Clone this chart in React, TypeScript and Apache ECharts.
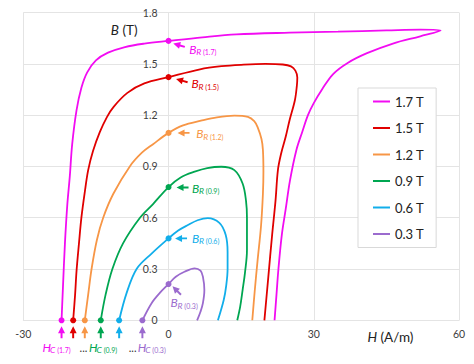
import React, { useEffect, useRef } from "react";
import * as echarts from "echarts";

// ---- data ----
const loopNames = ["1.7 T", "1.5 T", "1.2 T", "0.9 T", "0.6 T", "0.3 T"];
const loopTags = ["1.7", "1.5", "1.2", "0.9", "0.6", "0.3"];

const H_17 = [-22.1, -21.8, -21.4, -20.9, -20.4, -19.9, -19.0, -18.0, -16.8, -15.0, -12.5, -9.0, -5.0, 0, 7, 14, 25, 35, 45, 52, 56.2, 52, 46.5, 41, 37, 34, 31.7, 30, 28.8, 27.6, 26.4, 25.1, 24.2, 23.4, 22.7, 22.3, 21.9];
const B_17 = [0, 0.2, 0.45, 0.68, 0.84, 1.03, 1.229, 1.36, 1.45, 1.52, 1.565, 1.598, 1.618, 1.634, 1.655, 1.672, 1.682, 1.688, 1.695, 1.7, 1.695, 1.661, 1.62, 1.562, 1.505, 1.44, 1.35, 1.27, 1.2, 1.1, 0.995, 0.82, 0.65, 0.5, 0.3, 0.15, 0];

const H_15 = [-19.7, -19.3, -19.0, -18.5, -18.0, -17.3, -16.6, -15.6, -14.2, -12.7, -11.3, -8.5, -5.0, 0, 6.5, 11, 15, 20, 23.6, 25.3, 26.2, 26.6, 26.5, 26.1, 25.0, 24.2, 23.3, 22.6, 22.1, 21.4, 20.6, 19.8];
const B_15 = [0, 0.15, 0.29, 0.45, 0.6, 0.75, 0.878, 0.99, 1.1, 1.19, 1.25, 1.33, 1.385, 1.422, 1.468, 1.486, 1.494, 1.499, 1.496, 1.485, 1.46, 1.42, 1.37, 1.287, 1.17, 1.073, 0.98, 0.88, 0.7, 0.5, 0.25, 0];

const H_12 = [-17.3, -16.6, -15.9, -14.8, -13.5, -11.4, -8.0, -5.5, -3.2, 0, 3, 6.7, 10, 13.6, 16.4, 17.7, 18.4, 19.2, 19.5, 19.6, 19.5, 19.1, 18.4, 17.8, 17.3];
const B_12 = [0, 0.15, 0.3, 0.47, 0.6, 0.74, 0.9, 0.98, 1.03, 1.096, 1.14, 1.167, 1.187, 1.197, 1.19, 1.165, 1.13, 1.06, 0.995, 0.87, 0.742, 0.55, 0.352, 0.17, 0];

const H_09 = [-14.0, -13.0, -11.6, -9.4, -5.9, -3.2, 0, 2.5, 5.4, 8, 10.9, 13.6, 15.3, 16.0, 16.2, 16.2, 15.8, 15.3, 14.8, 14.2];
const B_09 = [0, 0.15, 0.3, 0.45, 0.6, 0.68, 0.779, 0.835, 0.869, 0.89, 0.898, 0.878, 0.8, 0.7, 0.6, 0.41, 0.28, 0.177, 0.08, 0];

const H_06 = [-10.2, -8.7, -6.6, -3.5, 0, 2, 4.0, 6, 8.1, 10.5, 11.8, 12.2, 12.2, 11.9, 11.4, 10.2];
const B_06 = [0, 0.156, 0.3, 0.39, 0.479, 0.525, 0.557, 0.585, 0.598, 0.57, 0.5, 0.4, 0.3, 0.2, 0.119, 0];

const H_03 = [-5.4, -3.5, -1.8, 0, 1.5, 3.3, 5.4, 6.6, 7.1, 7.4, 7.1, 6.6, 5.9];
const B_03 = [0, 0.1, 0.16, 0.212, 0.255, 0.284, 0.304, 0.29, 0.255, 0.177, 0.1, 0.05, 0];

const remanence = [1.634, 1.422, 1.096, 0.779, 0.479, 0.212];
const coercive = [-22.1, -19.7, -17.3, -14.0, -10.2, -5.4];

const xTicks = [-30, 0, 30, 60];
const yTicks = [0, 0.3, 0.6, 0.9, 1.2, 1.5, 1.8];

// ---- styles ----
const W = 474;
const HGT = 364;
const GRID = { left: 23.3, right: 15, top: 12.5, bottom: 43.7 };
const colors = ["#F20CF2", "#E00000", "#F79646", "#00A651", "#12AEEA", "#9B6BCE"];
const FONT = 'Lato, "Noto Sans", sans-serif';
const ARROW = "path://M5 0 L10 7 L6.4 7 L6.4 12 L3.6 12 L3.6 7 L0 7 Z";
const brArrow = [
  { rot: 74, off: [10.5, 4.3] },
  { rot: 74, off: [13.3, 3.5] },
  { rot: 90, off: [15, 0] },
  { rot: 90, off: [14, 0.5] },
  { rot: 90, off: [12.5, 0] },
  { rot: 45, off: [8.2, 6.5] },
];
const brLabel = [
  [20.6, 8.6],
  [23, 6.5],
  [27.6, 1],
  [23.5, 1],
  [23.5, 0],
  [2, 18.5],
];
const hcLabels = [
  { i: 0, dx: -19 },
  { i: 3, dx: -11.7 },
  { i: 5, dx: -4.7 },
];

const loops = [
  [H_17, B_17],
  [H_15, B_15],
  [H_12, B_12],
  [H_09, B_09],
  [H_06, B_06],
  [H_03, B_03],
];

export default function App() {
  const ref = useRef<HTMLDivElement>(null);
  useEffect(() => {
    if (!ref.current) return;
    const chart = echarts.init(ref.current, undefined, { renderer: "svg" });
    const gridColor = "#E4E4E4";
    const xMin = xTicks[0];
    const xMax = xTicks[xTicks.length - 1];
    const plotW = W - GRID.left - GRID.right;
    const yAxisOffset = -plotW * (0 - xMin) / (xMax - xMin);
    const option: any = {
      animation: false,
      grid: { ...GRID, containLabel: false },
      xAxis: {
        type: "value",
        min: xMin,
        max: xMax,
        interval: 30,
        axisLine: { show: true, onZero: false, lineStyle: { color: gridColor, width: 1 } },
        axisTick: { show: false },
        splitLine: { show: true, showMinLine: true, showMaxLine: true, lineStyle: { color: gridColor, width: 1 } },
        axisLabel: { color: "#404040", fontSize: 10.5, fontFamily: FONT, margin: 8 },
      },
      yAxis: {
        type: "value",
        min: yTicks[0],
        max: yTicks[yTicks.length - 1],
        interval: 0.3,
        position: "left",
        offset: yAxisOffset,
        axisLine: { show: true, onZero: false, lineStyle: { color: gridColor, width: 1 } },
        axisTick: { show: false },
        splitLine: { show: true, lineStyle: { color: gridColor, width: 1 } },
        axisLabel: {
          color: "#404040",
          fontSize: 10.5,
          fontFamily: FONT,
          margin: 11,
          formatter: (v: number) => (v === 0 ? "0" : v.toFixed(1)),
        },
      },
      legend: {
        orient: "vertical",
        left: 358,
        top: 88,
        padding: [7, 12, 7, 14],
        itemWidth: 17,
        itemHeight: 14,
        itemGap: 13.5,
        borderColor: "#D9D9D9",
        borderWidth: 1,
        backgroundColor: "#FFFFFF",
        data: loopNames,
        itemStyle: { opacity: 0 },
        textStyle: { fontSize: 13, color: "#222", fontFamily: FONT },
      },
      series: loops.map(([H, B], i) => ({
        name: loopNames[i],
        type: "line",
        data: H.map((h, j) => [h, B[j]]),
        smooth: 0.35,
        symbol: "none",
        lineStyle: { width: 1.8, color: colors[i] },
        itemStyle: { color: colors[i] },
        z: 2 + i,
        markPoint: {
          animation: false,
          label: { show: false },
          itemStyle: { color: colors[i], opacity: 1 },
          data: [
            { coord: [0, remanence[i]], symbol: "circle", symbolSize: 6 },
            { coord: [coercive[i], 0], symbol: "circle", symbolSize: 6 },
            {
              coord: [coercive[i], 0],
              symbol: ARROW,
              symbolSize: [7, 12],
              symbolOffset: [0, 12],
            },
            {
              coord: [0, remanence[i]],
              symbol: ARROW,
              symbolSize: [7, 12],
              symbolRotate: brArrow[i].rot,
              symbolOffset: brArrow[i].off,
            },
          ],
        },
      })),
    };
    chart.setOption(option);

    const px = (x: number, y: number) =>
      chart.convertToPixel({ gridIndex: 0 }, [x, y]) as number[];

    const graphic: any[] = [];
    remanence.forEach((br, i) => {
      const [x, y] = px(0, br);
      const lx = x + brLabel[i][0];
      const ly = y + brLabel[i][1];
      graphic.push({
        type: "text",
        x: lx,
        y: ly,
        style: {
          text: "B",
          fontSize: 12,
          fontStyle: "italic",
          fontFamily: FONT,
          fill: colors[i],
          align: "left",
          verticalAlign: "middle",
        },
      });
      graphic.push({
        type: "text",
        x: lx + 7,
        y: ly + 3,
        style: {
          text: "{r|R}{n| (" + loopTags[i] + ")}",
          fill: colors[i],
          align: "left",
          verticalAlign: "middle",
          rich: {
            r: { fontSize: 8.5, fontStyle: "italic", fontFamily: FONT, fill: colors[i] },
            n: { fontSize: 7, fontFamily: FONT, fill: colors[i] },
          },
        },
      });
    });
    const axisY = px(0, 0)[1];
    hcLabels.forEach(({ i, dx }) => {
      const lx = px(coercive[i], 0)[0] + dx;
      const ly = axisY + 27;
      graphic.push({
        type: "text",
        x: lx,
        y: ly,
        style: {
          text: "H",
          fontSize: 12,
          fontStyle: "italic",
          fontFamily: FONT,
          fill: colors[i],
          align: "left",
          verticalAlign: "middle",
        },
      });
      graphic.push({
        type: "text",
        x: lx + 7.5,
        y: ly + 3,
        style: {
          text: "{r|C}{n| (" + loopTags[i] + ")}",
          fill: colors[i],
          align: "left",
          verticalAlign: "middle",
          rich: {
            r: { fontSize: 8.5, fontStyle: "italic", fontFamily: FONT, fill: colors[i] },
            n: { fontSize: 7, fontFamily: FONT, fill: colors[i] },
          },
        },
      });
    });
    [
      [0, 18],
      [3, 28],
    ].forEach(([a, d]) => {
      const xa = px(coercive[a], 0)[0];
      graphic.push({
        type: "text",
        x: xa + d,
        y: axisY + 27,
        style: {
          text: "...",
          fontSize: 11,
          fontFamily: FONT,
          fill: "#333",
          align: "left",
          verticalAlign: "middle",
        },
      });
    });
    const top0 = px(0, yTicks[yTicks.length - 1]);
    graphic.push({
      type: "text",
      x: top0[0] - 57.7,
      y: top0[1] + 17,
      style: {
        text: "{i|B}{n| (T)}",
        align: "left",
        verticalAlign: "middle",
        rich: {
          i: { fontSize: 13.5, fontStyle: "italic", fontFamily: FONT, fill: "#222" },
          n: { fontSize: 13.5, fontFamily: FONT, fill: "#222" },
        },
      },
    });
    const hName = px(45, 0);
    graphic.push({
      type: "text",
      x: hName[0] + 4,
      y: hName[1] + 16.5,
      style: {
        text: "{i|H}{n| (A/m)}",
        align: "center",
        verticalAlign: "middle",
        rich: {
          i: { fontSize: 13.5, fontStyle: "italic", fontFamily: FONT, fill: "#222" },
          n: { fontSize: 13.5, fontFamily: FONT, fill: "#222" },
        },
      },
    });
    chart.setOption({ graphic });

    return () => chart.dispose();
  }, []);
  return (
    <div
      ref={ref}
      style={{ position: "absolute", left: 0, top: 0, width: W, height: HGT, background: "#fff" }}
    />
  );
}
